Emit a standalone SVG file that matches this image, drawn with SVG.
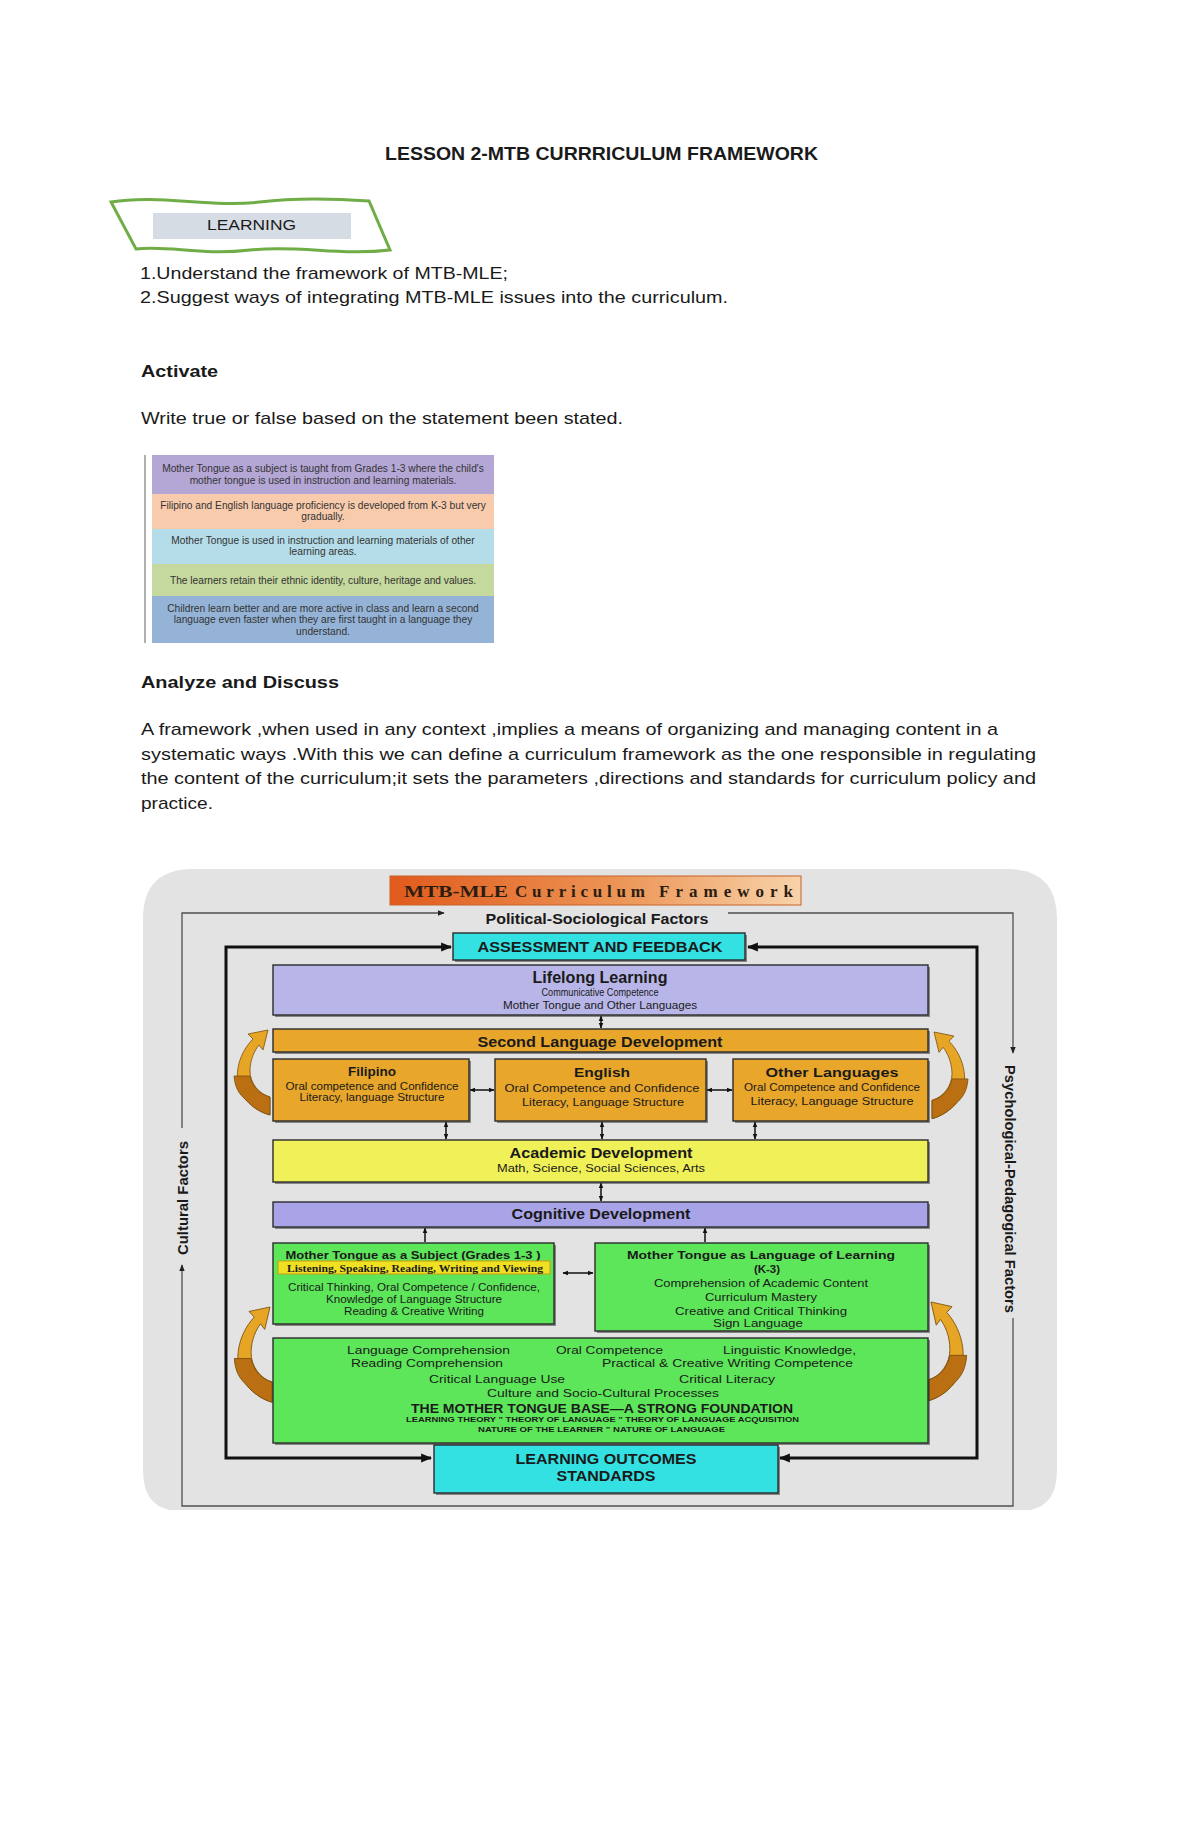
<svg xmlns="http://www.w3.org/2000/svg" width="1200" height="1835" viewBox="0 0 1200 1835">
<defs>
<style>
.t{font-family:"Liberation Sans",Arial,sans-serif;fill:#1a1a1a}
.s{font-family:"Liberation Serif","Times New Roman",serif;font-weight:bold}
.b{font-weight:bold}
.c{text-anchor:middle}
.box{stroke:#2b2b2b;stroke-width:1.4}
.sh{fill:#3a3a3a;opacity:.55}
.thin{fill:none;stroke:#505050;stroke-width:1.3}
.thick{fill:none;stroke:#111;stroke-width:3}
.dbl{fill:none;stroke:#111;stroke-width:1.5}
.tb{font-family:"Liberation Sans",Arial,sans-serif;font-size:10.2px;fill:#333;text-anchor:middle}
</style>
<marker id="ah" viewBox="0 0 10 10" refX="9" refY="5" markerWidth="7" markerHeight="7" markerUnits="userSpaceOnUse" orient="auto-start-reverse"><path d="M0,1 L10,5 L0,9 Z" fill="#222"/></marker>
<marker id="ahs" viewBox="0 0 10 10" refX="9" refY="5" markerWidth="6" markerHeight="6" markerUnits="userSpaceOnUse" orient="auto-start-reverse"><path d="M0,1 L10,5 L0,9 Z" fill="#111"/></marker>
<marker id="aht" viewBox="0 0 10 10" refX="9" refY="5" markerWidth="11" markerHeight="11" markerUnits="userSpaceOnUse" orient="auto-start-reverse"><path d="M0,1 L10,5 L0,9 Z" fill="#111"/></marker>
<linearGradient id="bann" x1="0" y1="0" x2="1" y2="0">
<stop offset="0" stop-color="#e05a1c"/><stop offset="0.55" stop-color="#ec9455"/><stop offset="1" stop-color="#f8d3aa"/>
</linearGradient>
<g id="curl">
<path d="M0,0 L-20,4 L-15,9 C-31,25 -37,52 -22,70 C-15,78 -6,83 2,85 L2,67 C-9,64 -18,53 -18,41 C-18,29 -13,20 -9,15 L-5,20 Z" fill="#e6a524" stroke="#7a5010" stroke-width="0.8"/>
<path d="M-34,46 C-33,58 -29,64 -22,70 C-15,78 -6,83 2,85 L2,67 C-9,64 -16,56 -18,46 Z" fill="#b96f12" stroke="#7a5010" stroke-width="0.8"/>
</g>
</defs>
<rect width="1200" height="1835" fill="#fff"/>

<g id="header">
<text class="t b" x="385" y="160" font-size="18" textLength="433" lengthAdjust="spacingAndGlyphs">LESSON 2-MTB CURRRICULUM FRAMEWORK</text>
<path d="M111,202 C160,194 210,208 260,202 C300,197 340,199 369,201 L390,250 C340,256 300,245 250,250 C200,256 170,245 136,249 Z" fill="#fff" stroke="#70ad47" stroke-width="3"/>
<rect x="153" y="213" width="198" height="26" fill="#d6dce4"/>
<text class="t" x="207" y="230" font-size="15" textLength="89" lengthAdjust="spacingAndGlyphs">LEARNING</text>
<text class="t" x="140" y="279" font-size="17" textLength="368" lengthAdjust="spacingAndGlyphs">1.Understand the framework of MTB-MLE;</text>
<text class="t" x="140" y="303" font-size="17" textLength="588" lengthAdjust="spacingAndGlyphs">2.Suggest ways  of integrating MTB-MLE issues into the curriculum.</text>
<text class="t b" x="141" y="377" font-size="17" textLength="77" lengthAdjust="spacingAndGlyphs">Activate</text>
<text class="t" x="141" y="424" font-size="17" textLength="482" lengthAdjust="spacingAndGlyphs">Write  true or false based on the statement been stated.</text>
</g>

<g id="statements">
<line x1="145" y1="455" x2="145" y2="643" stroke="#b0b0b0" stroke-width="2"/>
<rect x="152" y="455" width="342" height="39" fill="#b4a7d6"/>
<rect x="152" y="494" width="342" height="35" fill="#f8cbad"/>
<rect x="152" y="529" width="342" height="35" fill="#b4dde9"/>
<rect x="152" y="564" width="342" height="32" fill="#c5d89d"/>
<rect x="152" y="596" width="342" height="47" fill="#95b3d7"/>
<text class="tb" x="323" y="471.5">Mother Tongue as a subject is taught from Grades 1-3 where the child's</text>
<text class="tb" x="323" y="483.5">mother tongue is used in instruction and learning materials.</text>
<text class="tb" x="323" y="508.5">Filipino and English language proficiency is developed from K-3 but very</text>
<text class="tb" x="323" y="519.5">gradually.</text>
<text class="tb" x="323" y="543.5">Mother Tongue is used in instruction and learning materials of other</text>
<text class="tb" x="323" y="555">learning areas.</text>
<text class="tb" x="323" y="583.5">The learners retain their ethnic identity, culture, heritage and values.</text>
<text class="tb" x="323" y="611.5">Children learn better and are more active in class and learn a second</text>
<text class="tb" x="323" y="623">language even faster when they are first taught in a language they</text>
<text class="tb" x="323" y="634.5">understand.</text>
</g>

<g id="analyze">
<text class="t b" x="141" y="688" font-size="17" textLength="198" lengthAdjust="spacingAndGlyphs">Analyze and  Discuss</text>
<text class="t" x="141" y="735" font-size="17" textLength="857" lengthAdjust="spacingAndGlyphs">A  framework ,when used in any context ,implies  a means of organizing and managing content in a</text>
<text class="t" x="141" y="759.5" font-size="17" textLength="895" lengthAdjust="spacingAndGlyphs">systematic ways .With this we can define  a curriculum  framework as the one responsible  in regulating</text>
<text class="t" x="141" y="784" font-size="17" textLength="895" lengthAdjust="spacingAndGlyphs">the content  of the curriculum;it sets the parameters ,directions and standards  for curriculum policy and</text>
<text class="t" x="141" y="808.5" font-size="17" textLength="72" lengthAdjust="spacingAndGlyphs">practice.</text>
</g>

<g id="framework-bg">
<path d="M193,869 H1007 Q1057,869 1057,919 V1470 Q1057,1505 1030,1510 H170 Q143,1505 143,1470 V919 Q143,869 193,869 Z" fill="#e3e3e3"/>
</g>

<g id="connectors">
<path class="thin" d="M182,1128 V913 H444" marker-end="url(#ah)"/>
<path class="thin" d="M728,913 H1013 V1053" marker-end="url(#ah)"/>
<path class="thin" d="M1013,1318 V1506 H182 V1265" marker-end="url(#ah)"/>
<path class="thick" d="M451,947 H226 V1458 H431" marker-start="url(#aht)" marker-end="url(#aht)"/>
<path class="thick" d="M748,947 H977 V1458 H780" marker-start="url(#aht)" marker-end="url(#aht)"/>
<path class="dbl" d="M601,1016 V1028" marker-start="url(#ahs)" marker-end="url(#ahs)"/>
<path class="dbl" d="M470,1090 H494" marker-start="url(#ahs)" marker-end="url(#ahs)"/>
<path class="dbl" d="M707,1090 H732" marker-start="url(#ahs)" marker-end="url(#ahs)"/>
<path class="dbl" d="M446,1122 V1139" marker-start="url(#ahs)" marker-end="url(#ahs)"/>
<path class="dbl" d="M602,1122 V1139" marker-start="url(#ahs)" marker-end="url(#ahs)"/>
<path class="dbl" d="M755,1122 V1139" marker-start="url(#ahs)" marker-end="url(#ahs)"/>
<path class="dbl" d="M601,1183 V1201" marker-start="url(#ahs)" marker-end="url(#ahs)"/>
<path class="dbl" d="M425,1242 V1228" marker-end="url(#ahs)"/>
<path class="dbl" d="M705,1242 V1228" marker-end="url(#ahs)"/>
<path class="dbl" d="M563,1273 H593" marker-start="url(#ahs)" marker-end="url(#ahs)"/>
<use href="#curl" transform="translate(268,1030)"/>
<use href="#curl" transform="translate(270,1307) scale(1.05,1.12)"/>
<use href="#curl" transform="translate(934,1032) scale(-1,1.02)"/>
<use href="#curl" transform="translate(931,1302) scale(-1.05,1.16)"/>
</g>

<g id="factor-labels">
<text class="t b c" x="597" y="924" font-size="14" textLength="223" lengthAdjust="spacingAndGlyphs" fill="#222">Political-Sociological Factors</text>
<text class="t b c" transform="translate(188,1198) rotate(-90)" font-size="14.5" textLength="114" lengthAdjust="spacingAndGlyphs">Cultural Factors</text>
<text class="t b c" transform="translate(1005,1189) rotate(90)" font-size="14.5" textLength="248" lengthAdjust="spacingAndGlyphs">Psychological-Pedagogical Factors</text>
</g>

<g id="title-banner">
<rect x="390" y="876" width="411" height="29" fill="url(#bann)" stroke="#c8622a" stroke-width="1"/>
<text class="s" x="404" y="897" font-size="17" fill="#2b1d12" textLength="104" lengthAdjust="spacingAndGlyphs">MTB-MLE</text>
<text class="s" x="515" y="897" font-size="17" fill="#2b1d12" textLength="130" lengthAdjust="spacing">Curriculum</text>
<text class="s" x="659" y="897" font-size="17" fill="#2b1d12" textLength="134" lengthAdjust="spacing">Framework</text>
</g>

<g id="assessment">
<rect class="sh" x="455" y="935" width="292" height="27"/>
<rect class="box" x="453" y="933" width="292" height="27" fill="#33e0e2"/>
<text class="t b c" x="600" y="952" font-size="14" textLength="245" lengthAdjust="spacingAndGlyphs">ASSESSMENT AND FEEDBACK</text>
</g>

<g id="lifelong">
<rect class="sh" x="275" y="967" width="655" height="50"/>
<rect class="box" x="273" y="965" width="655" height="50" fill="#b8b6e8"/>
<text class="t b c" x="600" y="983" font-size="16" textLength="135" lengthAdjust="spacingAndGlyphs">Lifelong Learning</text>
<text class="t c" x="600" y="995.5" font-size="10" textLength="117" lengthAdjust="spacingAndGlyphs">Communicative Competence</text>
<text class="t c" x="600" y="1008.5" font-size="10" textLength="194" lengthAdjust="spacingAndGlyphs">Mother Tongue and Other Languages</text>
</g>

<g id="second-language">
<rect class="sh" x="275" y="1031" width="655" height="23"/>
<rect class="box" x="273" y="1029" width="655" height="23" fill="#e8a62a"/>
<text class="t b c" x="600" y="1047" font-size="14" textLength="245" lengthAdjust="spacingAndGlyphs">Second Language Development</text>
</g>

<g id="filipino">
<rect class="sh" x="275" y="1061" width="196" height="62"/>
<rect class="box" x="273" y="1059" width="196" height="62" fill="#e8a62a"/>
<text class="t b c" x="372" y="1076" font-size="12" textLength="48" lengthAdjust="spacingAndGlyphs">Filipino</text>
<text class="t c" x="372" y="1089.5" font-size="10" textLength="173" lengthAdjust="spacingAndGlyphs">Oral competence and Confidence</text>
<text class="t c" x="372" y="1100.5" font-size="10" textLength="145" lengthAdjust="spacingAndGlyphs">Literacy, language Structure</text>
</g>

<g id="english">
<rect class="sh" x="497" y="1061" width="211" height="62"/>
<rect class="box" x="495" y="1059" width="211" height="62" fill="#e8a62a"/>
<text class="t b c" x="602" y="1077" font-size="13" textLength="56" lengthAdjust="spacingAndGlyphs">English</text>
<text class="t c" x="602" y="1092" font-size="10.5" textLength="195" lengthAdjust="spacingAndGlyphs">Oral Competence  and Confidence</text>
<text class="t c" x="603" y="1106" font-size="10.5" textLength="162" lengthAdjust="spacingAndGlyphs">Literacy, Language Structure</text>
</g>

<g id="other-languages">
<rect class="sh" x="735" y="1061" width="195" height="62"/>
<rect class="box" x="733" y="1059" width="195" height="62" fill="#e8a62a"/>
<text class="t b c" x="832" y="1077" font-size="13" textLength="133" lengthAdjust="spacingAndGlyphs">Other Languages</text>
<text class="t c" x="832" y="1090.5" font-size="10" textLength="176" lengthAdjust="spacingAndGlyphs">Oral Competence and Confidence</text>
<text class="t c" x="832" y="1105" font-size="10.5" textLength="163" lengthAdjust="spacingAndGlyphs">Literacy, Language Structure</text>
</g>

<g id="academic">
<rect class="sh" x="275" y="1142" width="655" height="42"/>
<rect class="box" x="273" y="1140" width="655" height="42" fill="#f0f058"/>
<text class="t b c" x="601" y="1158" font-size="14" textLength="183" lengthAdjust="spacingAndGlyphs">Academic Development</text>
<text class="t c" x="601" y="1172" font-size="11" textLength="208" lengthAdjust="spacingAndGlyphs">Math, Science, Social Sciences, Arts</text>
</g>

<g id="cognitive">
<rect class="sh" x="275" y="1204" width="655" height="25"/>
<rect class="box" x="273" y="1202" width="655" height="25" fill="#a9a4e8"/>
<text class="t b c" x="601" y="1219" font-size="14" textLength="179" lengthAdjust="spacingAndGlyphs">Cognitive Development</text>
</g>

<g id="mt-subject">
<rect class="sh" x="275" y="1245" width="281" height="81"/>
<rect class="box" x="273" y="1243" width="281" height="81" fill="#5ee65a"/>
<text class="t b c" x="413" y="1259" font-size="11.5" textLength="255" lengthAdjust="spacingAndGlyphs">Mother Tongue as a Subject (Grades 1-3 )</text>
<rect x="278" y="1261" width="272" height="13" fill="#f0e024" stroke="#c89a10" stroke-width="1"/>
<text class="s c" x="415" y="1271.5" font-size="10" fill="#1a1a1a" textLength="256" lengthAdjust="spacingAndGlyphs">Listening, Speaking, Reading, Writing and Viewing</text>
<text class="t c" x="414" y="1290.5" font-size="10" textLength="252" lengthAdjust="spacingAndGlyphs">Critical Thinking, Oral Competence / Confidence,</text>
<text class="t c" x="414" y="1302.5" font-size="10" textLength="176" lengthAdjust="spacingAndGlyphs">Knowledge of Language Structure</text>
<text class="t c" x="414" y="1314.5" font-size="10" textLength="140" lengthAdjust="spacingAndGlyphs">Reading &amp; Creative Writing</text>
</g>

<g id="mt-learning">
<rect class="sh" x="597" y="1245" width="333" height="88"/>
<rect class="box" x="595" y="1243" width="333" height="88" fill="#5ee65a"/>
<text class="t b c" x="761" y="1259" font-size="11.5" textLength="268" lengthAdjust="spacingAndGlyphs">Mother Tongue as Language of Learning</text>
<text class="t b c" x="767" y="1273" font-size="11.5">(K-3)</text>
<text class="t c" x="761" y="1287" font-size="11" textLength="214" lengthAdjust="spacingAndGlyphs">Comprehension of Academic Content</text>
<text class="t c" x="761" y="1301" font-size="11" textLength="112" lengthAdjust="spacingAndGlyphs">Curriculum Mastery</text>
<text class="t c" x="761" y="1315" font-size="11" textLength="172" lengthAdjust="spacingAndGlyphs">Creative  and Critical Thinking</text>
<text class="t c" x="758" y="1327" font-size="11" textLength="90" lengthAdjust="spacingAndGlyphs">Sign Language</text>
</g>

<g id="mt-base">
<rect class="sh" x="275" y="1340" width="655" height="105"/>
<rect class="box" x="273" y="1338" width="655" height="105" fill="#5ee65a"/>
<text class="t" x="347" y="1354" font-size="11" textLength="163" lengthAdjust="spacingAndGlyphs">Language Comprehension</text>
<text class="t" x="556" y="1354" font-size="11" textLength="107" lengthAdjust="spacingAndGlyphs">Oral Competence</text>
<text class="t" x="723" y="1354" font-size="11" textLength="133" lengthAdjust="spacingAndGlyphs">Linguistic Knowledge,</text>
<text class="t" x="351" y="1367" font-size="11" textLength="152" lengthAdjust="spacingAndGlyphs">Reading Comprehension</text>
<text class="t" x="602" y="1367" font-size="11" textLength="251" lengthAdjust="spacingAndGlyphs">Practical &amp; Creative Writing Competence</text>
<text class="t" x="429" y="1383" font-size="11" textLength="136" lengthAdjust="spacingAndGlyphs">Critical Language Use</text>
<text class="t" x="679" y="1383" font-size="11" textLength="96" lengthAdjust="spacingAndGlyphs">Critical Literacy</text>
<text class="t" x="487" y="1397" font-size="11" textLength="232" lengthAdjust="spacingAndGlyphs">Culture and Socio-Cultural Processes</text>
<text class="t b" x="411" y="1412.5" font-size="12.5" textLength="382" lengthAdjust="spacingAndGlyphs">THE MOTHER TONGUE BASE—A STRONG FOUNDATION</text>
<text class="t b" x="406" y="1421.5" font-size="7" textLength="393" lengthAdjust="spacingAndGlyphs">LEARNING THEORY "  THEORY OF LANGUAGE " THEORY OF LANGUAGE ACQUISITION</text>
<text class="t b" x="478" y="1431.5" font-size="7" textLength="247" lengthAdjust="spacingAndGlyphs">NATURE OF THE LEARNER  "  NATURE OF LANGUAGE</text>
</g>

<g id="outcomes">
<rect class="sh" x="436" y="1447" width="344" height="48"/>
<rect class="box" x="434" y="1445" width="344" height="48" fill="#33e0e2"/>
<text class="t b c" x="606" y="1464" font-size="14" textLength="181" lengthAdjust="spacingAndGlyphs">LEARNING OUTCOMES</text>
<text class="t b c" x="606" y="1481" font-size="14" textLength="99" lengthAdjust="spacingAndGlyphs">STANDARDS</text>
</g>
</svg>
